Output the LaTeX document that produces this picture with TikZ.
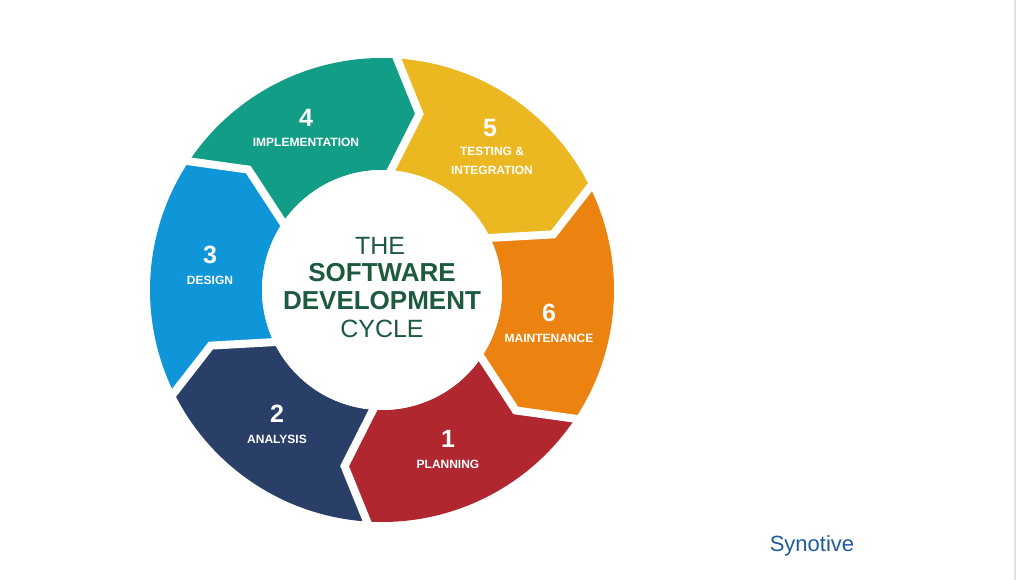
\documentclass[tikz,border=0pt]{standalone}
\usepackage{fontspec}
\setmainfont{Liberation Sans}
\definecolor{cRed}{HTML}{B0272F}
\definecolor{cNavy}{HTML}{2A3F68}
\definecolor{cBlue}{HTML}{0E96D8}
\definecolor{cTeal}{HTML}{129E86}
\definecolor{cYellow}{HTML}{EBB822}
\definecolor{cOrange}{HTML}{EC8311}
\definecolor{cGreen}{HTML}{1E5A3E}
\definecolor{cLogo}{HTML}{1F5C99}
\newcommand{\segpiece}[2]{%
  \fill[#2] (#1:232pt) arc[start angle=#1, end angle=#1-60, radius=232pt]
    -- (#1-69:180pt) -- (#1-60:120pt)
    arc[start angle=#1-60, end angle=#1, radius=120pt]
    -- (#1-9:180pt) -- cycle;}
\tikzset{
  num/.style={text=white, font=\bfseries\fontsize{25}{26}\selectfont, inner sep=0pt},
  lab/.style={text=white, font=\bfseries\fontsize{12}{19}\selectfont, align=center, inner sep=0pt},
  ctr/.style={text=cGreen, font=\fontsize{25}{28}\selectfont, inner sep=0pt},
  ctrb/.style={text=cGreen, font=\bfseries\fontsize{26}{28}\selectfont, inner sep=0pt}
}
\begin{document}
\begin{tikzpicture}[x=1pt,y=1pt]
\useasboundingbox[fill=white] (0,0) rectangle (1023,-580);
\draw[black!12, line width=1.5pt] (1015,0) -- (1015,-580);
\begin{scope}[shift={(382,-290)}]
  \segpiece{87}{cYellow}
  \segpiece{27}{cOrange}
  \segpiece{-33}{cRed}
  \segpiece{-93}{cNavy}
  \segpiece{-153}{cBlue}
  \segpiece{147}{cTeal}
  \foreach \b in {87,27,-33,-93,-153,147}
    \draw[white, line width=8pt, line join=miter] (\b:238pt) -- (\b-9:180pt) -- (\b:114pt);
  \fill[white] (0,0) circle (120pt);
\end{scope}
\node[num] (n4) at (306,-118) {4};
\node[lab] (l4) at (306,-142) {IMPLEMENTATION};
\node[num] (n5) at (490,-128) {5};
\node[lab] (l5) at (492,-161) {TESTING \&\\INTEGRATION};
\node[num] (n3) at (210,-255) {3};
\node[lab] (l3) at (210,-280) {DESIGN};
\node[num] (n6) at (549,-313) {6};
\node[lab] (l6) at (549,-338) {MAINTENANCE};
\node[num] (n2) at (277,-414) {2};
\node[lab] (l2) at (277,-439) {ANALYSIS};
\node[num] (n1) at (448,-439) {1};
\node[lab] (l1) at (448,-464) {PLANNING};
\node[ctr] (t1) at (380,-246) {THE};
\node[ctrb] (t2) at (382,-273) {SOFTWARE};
\node[ctrb] (t3) at (382,-301) {DEVELOPMENT};
\node[ctr] (t4) at (382,-329) {CYCLE};
\node[text=cLogo, font=\fontsize{22}{24}\selectfont, inner sep=0pt] (logo) at (812,-546) {Synotive};
\end{tikzpicture}
\end{document}
